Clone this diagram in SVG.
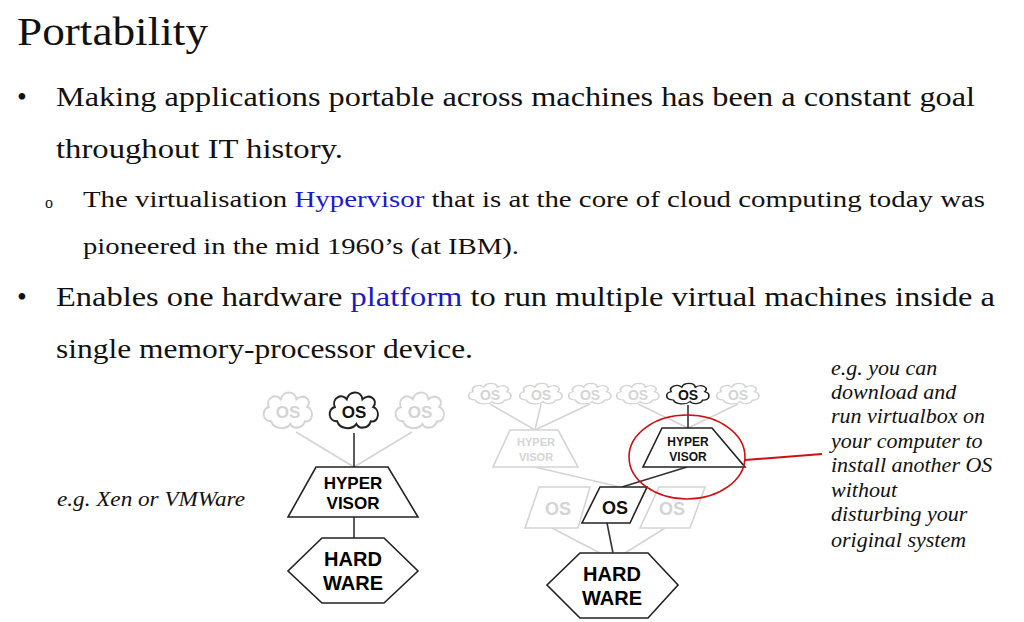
<svg xmlns="http://www.w3.org/2000/svg" width="1024" height="622" viewBox="0 0 1024 622">
<style>
.t{font-family:"Liberation Serif",serif;fill:#111}
.it{font-family:"Liberation Serif",serif;font-style:italic;font-size:22px;fill:#111}
.b{fill:#1a1acc}
.s{font-family:"Liberation Sans",Arial,sans-serif;font-weight:bold;text-anchor:middle}
.dk{fill:#fff;stroke:#222;stroke-width:1.6}
.fd{fill:#fff;stroke:#d4d4d4;stroke-width:1.6}
.ld{stroke:#333;stroke-width:1.6}
.lf{stroke:#d4d4d4;stroke-width:1.6}
</style>
<defs>
<path id="cl" d="M-14,8 C-22,8 -22,-2 -16,-3 C-19,-10 -10,-14 -6,-9 C-4,-16 6,-16 7,-9 C12,-14 21,-9 16,-3 C22,-1 21,9 14,8 C12,14 4,14 2,10 C-2,15 -12,14 -14,8 Z"/>
</defs>
<rect width="1024" height="622" fill="#fff"/>
<text class="t" x="17" y="45" font-size="40" textLength="191" lengthAdjust="spacingAndGlyphs">Portability</text>
<text class="t" x="17" y="106" font-size="28">•</text>
<text class="t" x="56" y="106" font-size="28" textLength="919" lengthAdjust="spacingAndGlyphs">Making applications portable across machines has been a constant goal</text>
<text class="t" x="56" y="158" font-size="28" textLength="287" lengthAdjust="spacingAndGlyphs">throughout IT history.</text>
<text class="t" x="45" y="208" font-size="16">o</text>
<text class="t" x="83" y="207" font-size="24" textLength="902" lengthAdjust="spacingAndGlyphs">The virtualisation <tspan class="b">Hypervisor</tspan> that is at the core of cloud computing today was</text>
<text class="t" x="83" y="254" font-size="24" textLength="436" lengthAdjust="spacingAndGlyphs">pioneered in the mid 1960’s (at IBM).</text>
<text class="t" x="17" y="306" font-size="28">•</text>
<text class="t" x="56" y="306" font-size="28" textLength="939" lengthAdjust="spacingAndGlyphs">Enables one hardware <tspan class="b">platform</tspan> to run multiple virtual machines inside a</text>
<text class="t" x="56" y="358" font-size="28" textLength="417" lengthAdjust="spacingAndGlyphs">single memory-processor device.</text>
<text class="it" x="57" y="506" textLength="188" lengthAdjust="spacingAndGlyphs">e.g. Xen or VMWare</text>
<g class="it">
<text x="831" y="375">e.g. you can</text>
<text x="831" y="399">download and</text>
<text x="831" y="423">run virtualbox on</text>
<text x="831" y="448">your computer to</text>
<text x="831" y="472">install another OS</text>
<text x="831" y="497">without</text>
<text x="831" y="521">disturbing your</text>
<text x="831" y="547">original system</text>
</g>
<g id="connectors" fill="none">
<line class="lf" x1="296" y1="432" x2="354" y2="467"/>
<line class="lf" x1="412" y1="432" x2="354" y2="467"/>
<line class="ld" x1="354" y1="433" x2="354" y2="467"/>
<line class="ld" x1="354" y1="517" x2="354" y2="538"/>
<line class="lf" x1="490" y1="404" x2="535" y2="430"/>
<line class="lf" x1="541" y1="404" x2="535" y2="430"/>
<line class="lf" x1="590" y1="404" x2="535" y2="430"/>
<line class="lf" x1="638" y1="404" x2="688" y2="428"/>
<line class="lf" x1="738" y1="404" x2="688" y2="428"/>
<line class="ld" x1="688" y1="405" x2="688" y2="428"/>
<line class="lf" x1="535" y1="467" x2="620" y2="487"/>
<line class="lf" x1="552" y1="528" x2="600" y2="553"/>
<line class="lf" x1="665" y1="528" x2="625" y2="553"/>
<line class="ld" x1="687" y1="467" x2="622" y2="487"/>
<line class="ld" x1="607" y1="523" x2="613" y2="553"/>
<line stroke="#d01010" stroke-width="2" x1="745" y1="460" x2="822" y2="454"/>
</g>
<g id="left-os1"><use href="#cl" class="fd" transform="translate(288,411) scale(1.2,1.3)"/><text class="s" x="288" y="418" font-size="17" fill="#d4d4d4">OS</text></g>
<g id="left-os2"><use href="#cl" class="dk" transform="translate(354,411) scale(1.2,1.3)"/><text class="s" x="354" y="418" font-size="17" fill="#111">OS</text></g>
<g id="left-os3"><use href="#cl" class="fd" transform="translate(420,411) scale(1.2,1.3)"/><text class="s" x="420" y="418" font-size="17" fill="#d4d4d4">OS</text></g>
<g id="left-hyper"><polygon class="dk" points="316,467 388,467 418,517 288,517"/><text class="s" x="353" y="489" font-size="17">HYPER</text><text class="s" x="353" y="509" font-size="17">VISOR</text></g>
<g id="left-hw"><polygon class="dk" points="322,538 384,538 418,571 384,603 322,603 288,571"/><text class="s" x="353" y="566" font-size="20">HARD</text><text class="s" x="353" y="590" font-size="20">WARE</text></g>
<g id="r-os1"><use href="#cl" class="fd" transform="translate(490,394) scale(1.05,0.75)"/><text class="s" x="490" y="400" font-size="14" fill="#d4d4d4">OS</text></g>
<g id="r-os2"><use href="#cl" class="fd" transform="translate(541,394) scale(1.05,0.75)"/><text class="s" x="541" y="400" font-size="14" fill="#d4d4d4">OS</text></g>
<g id="r-os3"><use href="#cl" class="fd" transform="translate(590,394) scale(1.05,0.75)"/><text class="s" x="590" y="400" font-size="14" fill="#d4d4d4">OS</text></g>
<g id="r-os4"><use href="#cl" class="fd" transform="translate(638,394) scale(1.05,0.75)"/><text class="s" x="638" y="400" font-size="14" fill="#d4d4d4">OS</text></g>
<g id="r-os5"><use href="#cl" class="dk" transform="translate(688,394) scale(1.05,0.75)"/><text class="s" x="688" y="400" font-size="14" fill="#111">OS</text></g>
<g id="r-os6"><use href="#cl" class="fd" transform="translate(738,394) scale(1.05,0.75)"/><text class="s" x="738" y="400" font-size="14" fill="#d4d4d4">OS</text></g>
<g id="r-hyper-faded"><polygon class="fd" points="510,430 558,430 578,467 493,467"/><text class="s" x="536" y="446" font-size="11" fill="#d4d4d4">HYPER</text><text class="s" x="536" y="461" font-size="11" fill="#d4d4d4">VISOR</text></g>
<g id="r-hyper"><polygon class="dk" points="662,428 712,428 745,467 643,467"/><text class="s" x="688" y="446" font-size="12" fill="#111">HYPER</text><text class="s" x="688" y="461" font-size="12" fill="#111">VISOR</text></g>
<g id="r-os-faded1"><polygon class="fd" points="539,487 590,487 578,528 525,528"/><text class="s" x="558" y="515" font-size="18" fill="#d4d4d4">OS</text></g>
<g id="r-os-faded2"><polygon class="fd" points="659,487 705,487 690,528 640,528"/><text class="s" x="672" y="515" font-size="18" fill="#d4d4d4">OS</text></g>
<g id="r-os-main"><polygon class="dk" points="600,487 647,487 630,523 582,523"/><text class="s" x="615" y="514" font-size="18" fill="#111">OS</text></g>
<g id="r-hw"><polygon class="dk" points="580,553 648,553 678,585 648,618 580,618 547,585"/><text class="s" x="612" y="581" font-size="20">HARD</text><text class="s" x="612" y="605" font-size="20">WARE</text></g>
<ellipse id="highlight" cx="687" cy="457" rx="58" ry="42" fill="none" stroke="#d01010" stroke-width="1.6"/>
</svg>
